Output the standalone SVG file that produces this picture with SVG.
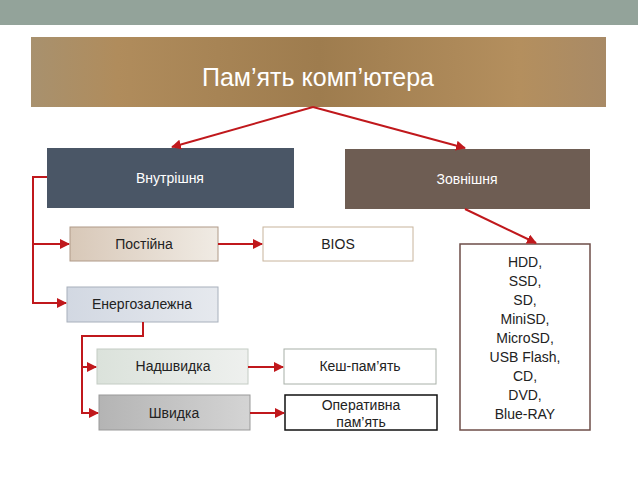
<svg xmlns="http://www.w3.org/2000/svg" width="638" height="479" viewBox="0 0 638 479">
<defs>
<linearGradient id="gt" x1="0" x2="1" y1="0" y2="0"><stop offset="0" stop-color="#a8916e"/><stop offset="0.15" stop-color="#b08c5c"/><stop offset="0.5" stop-color="#9e7c4e"/><stop offset="0.85" stop-color="#b48f5e"/><stop offset="1" stop-color="#a88a66"/></linearGradient>
<linearGradient id="gp" x1="0" x2="1"><stop offset="0" stop-color="#d8c8b8"/><stop offset="1" stop-color="#f0ebe4"/></linearGradient>
<linearGradient id="ge" x1="0" x2="1"><stop offset="0" stop-color="#d2d8e2"/><stop offset="1" stop-color="#e6e9ee"/></linearGradient>
<linearGradient id="gn" x1="0" x2="1"><stop offset="0" stop-color="#dbe2db"/><stop offset="1" stop-color="#eef0ee"/></linearGradient>
<linearGradient id="gs" x1="0" x2="1"><stop offset="0" stop-color="#b4b4b4"/><stop offset="1" stop-color="#d4d4d4"/></linearGradient>
<marker id="ar" viewBox="0 0 10 10" refX="9" refY="5" markerWidth="5" markerHeight="5" orient="auto"><path d="M0,0 L10,5 L0,10 Z" fill="#c0181c"/></marker>
<style>
text{font-family:"Liberation Sans",Arial,sans-serif;text-anchor:middle;font-size:14px;fill:#222}
.c{fill:none;stroke:#c0181c;stroke-width:2}
.w{fill:#fff}
</style>
</defs>
<rect x="0" y="0" width="638" height="25" fill="#93a39a"/>
<g id="title"><rect x="31" y="37" width="575" height="70" fill="url(#gt)"/><text x="318" y="86" style="font-size:25px;fill:#fff">Пам’ять комп’ютера</text></g>
<g id="int"><rect x="47" y="148" width="247" height="60" fill="#4a5666"/><text class="w" x="170" y="183" style="fill:#fff">Внутрішня</text></g>
<g id="ext"><rect x="345" y="149" width="245" height="60" fill="#6e5d53"/><text x="467" y="184" style="fill:#fff">Зовнішня</text></g>
<g id="post"><rect x="70" y="227" width="148" height="34" fill="url(#gp)" stroke="#b09a88"/><text x="144" y="249">Постійна</text></g>
<g id="bios"><rect x="263" y="227" width="150" height="34" fill="#fff" stroke="#c8b49c"/><text x="338" y="249">BIOS</text></g>
<g id="energ"><rect x="67" y="287" width="151" height="35" fill="url(#ge)" stroke="#a8b0bc"/><text x="142" y="309">Енергозалежна</text></g>
<g id="nad"><rect x="97" y="349" width="151" height="35" fill="url(#gn)" stroke="#c4ccc4"/><text x="173" y="371">Надшвидка</text></g>
<g id="cache"><rect x="284" y="349" width="152" height="35" fill="#fff" stroke="#a8b0a8"/><text x="360" y="371">Кеш-пам’ять</text></g>
<g id="shv"><rect x="99" y="395" width="151" height="35" fill="url(#gs)" stroke="#999"/><text x="174" y="418">Швидка</text></g>
<g id="oper"><rect x="285" y="395" width="152" height="35" fill="#fff" stroke="#111" stroke-width="1.5"/><text x="361" y="410">Оперативна</text><text x="361" y="427">пам’ять</text></g>
<g id="list"><rect x="460" y="244" width="130" height="186" fill="#fff" stroke="#6e4e48" stroke-width="1.5"/>
<text x="525" y="267">HDD,</text><text x="525" y="286">SSD,</text><text x="525" y="305">SD,</text><text x="525" y="324">MiniSD,</text><text x="525" y="343">MicroSD,</text><text x="525" y="362">USB Flash,</text><text x="525" y="381">CD,</text><text x="525" y="400">DVD,</text><text x="525" y="419">Blue-RAY</text></g>
<g id="connectors">
<path class="c" d="M313,107 L172,147" marker-end="url(#ar)"/>
<path class="c" d="M313,107 L465,148" marker-end="url(#ar)"/>
<path class="c" d="M465,209 L536,243" marker-end="url(#ar)"/>
<path class="c" d="M47,177 L33,177 L33,303 L66,303" marker-end="url(#ar)"/>
<path class="c" d="M33,244 L69,244" marker-end="url(#ar)"/>
<path class="c" d="M218,244 L262,244" marker-end="url(#ar)"/>
<path class="c" d="M143,322 L143,336 L82,336 L82,413 L98,413" marker-end="url(#ar)"/>
<path class="c" d="M82,367 L96,367" marker-end="url(#ar)"/>
<path class="c" d="M248,367 L283,367" marker-end="url(#ar)"/>
<path class="c" d="M250,413 L284,413" marker-end="url(#ar)"/>
</g>
</svg>
